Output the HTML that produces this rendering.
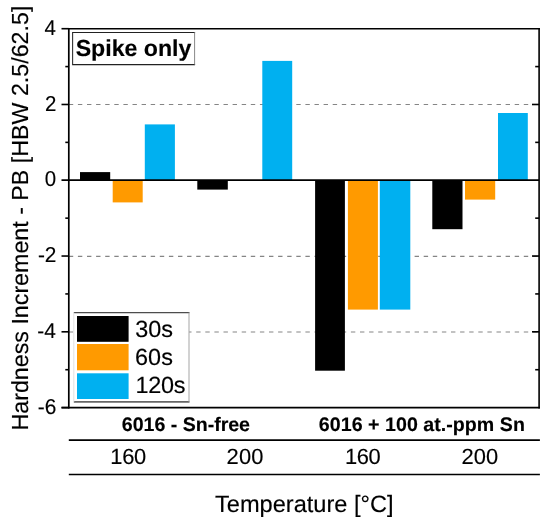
<!DOCTYPE html>
<html><head><meta charset="utf-8"><title>Hardness Increment chart</title>
<style>
html,body{margin:0;padding:0;background:#fff;}
svg{display:block;}
text{text-rendering:geometricPrecision;font-family:'Liberation Sans', Arial, sans-serif;fill:#000;stroke:#000;stroke-width:0.15px;}
text.b{stroke-width:0.15px;}
</style></head>
<body>
<svg width="550" height="523" viewBox="0 0 550 523">
<rect width="550" height="523" fill="#fff"/>
<line x1="68.8" y1="104.5" x2="539.1" y2="104.5" stroke="#858585" stroke-width="1.2" stroke-dasharray="4.4 4.7"/>
<line x1="68.8" y1="256.4" x2="539.1" y2="256.4" stroke="#858585" stroke-width="1.2" stroke-dasharray="4.4 4.7"/>
<line x1="68.8" y1="332.0" x2="539.1" y2="332.0" stroke="#858585" stroke-width="1.2" stroke-dasharray="4.4 4.7"/>
<rect x="80.0" y="172.1" width="30.20" height="8.20" fill="#000000"/>
<rect x="112.7" y="180.3" width="30.00" height="22.10" fill="#ff9a00"/>
<rect x="144.8" y="124.4" width="30.10" height="55.90" fill="#00b0f0"/>
<rect x="197.3" y="180.3" width="30.50" height="9.30" fill="#000000"/>
<rect x="262.3" y="60.9" width="29.90" height="119.40" fill="#00b0f0"/>
<rect x="315.1" y="180.3" width="29.80" height="190.40" fill="#000000"/>
<rect x="347.9" y="180.3" width="30.00" height="129.30" fill="#ff9a00"/>
<rect x="379.8" y="180.3" width="30.50" height="129.30" fill="#00b0f0"/>
<rect x="432.3" y="180.3" width="30.20" height="48.90" fill="#000000"/>
<rect x="465.0" y="180.3" width="30.20" height="19.30" fill="#ff9a00"/>
<rect x="498.0" y="113.0" width="29.80" height="67.30" fill="#00b0f0"/>
<line x1="61.5" y1="180.1" x2="539.1" y2="180.1" stroke="#000" stroke-width="1.7"/>
<line x1="68.8" y1="28.7" x2="539.9" y2="28.7" stroke="#000" stroke-width="1.4"/>
<line x1="61.5" y1="407.6" x2="539.9" y2="407.6" stroke="#000" stroke-width="1.6"/>
<line x1="68.8" y1="27.95" x2="68.8" y2="408.40000000000003" stroke="#000" stroke-width="1.7"/>
<line x1="539.1" y1="27.95" x2="539.1" y2="408.40000000000003" stroke="#000" stroke-width="1.6"/>
<line x1="61.5" y1="28.70" x2="68.8" y2="28.70" stroke="#000" stroke-width="1.6"/>
<line x1="65.3" y1="66.59" x2="68.8" y2="66.59" stroke="#000" stroke-width="1.6"/>
<line x1="535.2" y1="66.59" x2="539.1" y2="66.59" stroke="#000" stroke-width="1.6"/>
<line x1="61.5" y1="104.48" x2="68.8" y2="104.48" stroke="#000" stroke-width="1.6"/>
<line x1="532" y1="104.48" x2="539.1" y2="104.48" stroke="#000" stroke-width="1.6"/>
<line x1="65.3" y1="142.37" x2="68.8" y2="142.37" stroke="#000" stroke-width="1.6"/>
<line x1="535.2" y1="142.37" x2="539.1" y2="142.37" stroke="#000" stroke-width="1.6"/>
<line x1="65.3" y1="218.15" x2="68.8" y2="218.15" stroke="#000" stroke-width="1.6"/>
<line x1="535.2" y1="218.15" x2="539.1" y2="218.15" stroke="#000" stroke-width="1.6"/>
<line x1="61.5" y1="256.04" x2="68.8" y2="256.04" stroke="#000" stroke-width="1.6"/>
<line x1="532" y1="256.04" x2="539.1" y2="256.04" stroke="#000" stroke-width="1.6"/>
<line x1="65.3" y1="293.93" x2="68.8" y2="293.93" stroke="#000" stroke-width="1.6"/>
<line x1="535.2" y1="293.93" x2="539.1" y2="293.93" stroke="#000" stroke-width="1.6"/>
<line x1="61.5" y1="331.82" x2="68.8" y2="331.82" stroke="#000" stroke-width="1.6"/>
<line x1="532" y1="331.82" x2="539.1" y2="331.82" stroke="#000" stroke-width="1.6"/>
<line x1="65.3" y1="369.71" x2="68.8" y2="369.71" stroke="#000" stroke-width="1.6"/>
<line x1="535.2" y1="369.71" x2="539.1" y2="369.71" stroke="#000" stroke-width="1.6"/>
<line x1="61.5" y1="407.60" x2="68.8" y2="407.60" stroke="#000" stroke-width="1.6"/>
<rect x="72.6" y="32.3" width="122" height="32.4" fill="#fff"/>
<line x1="72.1" y1="32.5" x2="195.1" y2="32.5" stroke="#222" stroke-width="1.1"/>
<line x1="72.1" y1="64.6" x2="195.1" y2="64.6" stroke="#222" stroke-width="1.2"/>
<line x1="72.6" y1="32.5" x2="72.6" y2="64.6" stroke="#333" stroke-width="1.1"/>
<line x1="194.6" y1="32.3" x2="194.6" y2="64.6" stroke="#888" stroke-width="1"/>
<rect x="73.8" y="312.6" width="115.2" height="89.2" fill="#fff"/>
<line x1="73.8" y1="312.6" x2="189.5" y2="312.6" stroke="#4d4d4d" stroke-width="1.2"/>
<line x1="73.8" y1="401.8" x2="189.5" y2="401.8" stroke="#666" stroke-width="1.7"/>
<line x1="73.8" y1="312.6" x2="73.8" y2="401.8" stroke="#e2e2e2" stroke-width="1"/>
<line x1="189" y1="312.6" x2="189" y2="401.8" stroke="#a5a5a5" stroke-width="1"/>
<rect x="77" y="316.0" width="51.6" height="25.8" fill="#000"/>
<rect x="77" y="344.0" width="51.6" height="26.3" fill="#ff9a00"/>
<rect x="77" y="373.3" width="51.6" height="25.7" fill="#00b0f0"/>
<line x1="68.8" y1="440.1" x2="539.9" y2="440.1" stroke="#000" stroke-width="1.6"/>
<line x1="68.8" y1="474.5" x2="539.9" y2="474.5" stroke="#000" stroke-width="1.6"/>
<text transform="translate(44.52 35.00) scale(0.9500 1)" font-size="21.5" font-weight="normal">4</text>
<text transform="translate(45.09 110.70) scale(0.9500 1)" font-size="21.5" font-weight="normal">2</text>
<text transform="translate(44.77 186.30) scale(0.9500 1)" font-size="21.5" font-weight="normal">0</text>
<text transform="translate(37.92 261.80) scale(0.9700 1)" font-size="21.5" font-weight="normal">-2</text>
<text transform="translate(37.33 337.50) scale(0.9700 1)" font-size="21.5" font-weight="normal">-4</text>
<text transform="translate(37.74 414.20) scale(0.9700 1)" font-size="21.5" font-weight="normal">-6</text>
<text class="b" transform="translate(75.67 56.20)" font-size="23.15" font-weight="bold">Spike only</text>
<text transform="translate(135.27 336.90)" font-size="23.45" font-weight="normal" letter-spacing="-0.086">30s</text>
<text transform="translate(134.95 365.00)" font-size="23.45" font-weight="normal" letter-spacing="0.1">60s</text>
<text transform="translate(135.52 393.10)" font-size="23.45" font-weight="normal" letter-spacing="-0.311">120s</text>
<text class="b" transform="translate(121.86 430.80)" font-size="19.6" font-weight="bold" letter-spacing="-0.029">6016 - Sn-free</text>
<text class="b" transform="translate(318.86 430.80)" font-size="19.6" font-weight="bold" letter-spacing="0.037">6016 + 100 at.-ppm Sn</text>
<text transform="translate(110.33 463.90)" font-size="21.9" font-weight="normal" letter-spacing="-0.363">160</text>
<text transform="translate(226.49 463.90)" font-size="21.9" font-weight="normal" letter-spacing="0.214">200</text>
<text transform="translate(344.93 463.90)" font-size="21.9" font-weight="normal" letter-spacing="-0.363">160</text>
<text transform="translate(461.59 463.90)" font-size="21.9" font-weight="normal" letter-spacing="0.073">200</text>
<text transform="translate(214.96 511.70)" font-size="23.61" font-weight="normal">Temperature [°C]</text>
<text transform="translate(27.90 430.51) rotate(-90)" font-size="23.24" font-weight="normal" letter-spacing="0">Hardness Increment - PB [HBW 2.5/62.5]</text>
</svg>
</body></html>
